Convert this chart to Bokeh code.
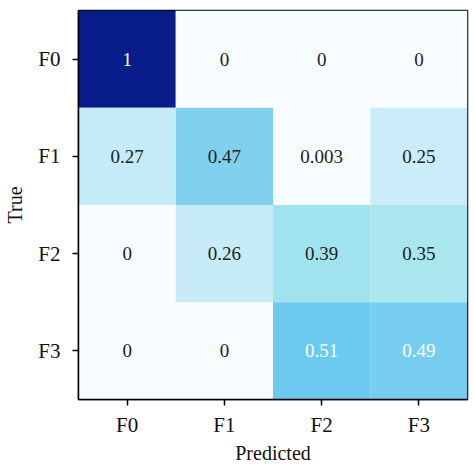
from bokeh.plotting import figure
from bokeh.models import ColumnDataSource, LinearColorMapper, FactorRange
from bokeh.core.properties import value
from bokeh.embed import file_html
from bokeh.resources import INLINE

# ---- data ----
classes = ["F0", "F1", "F2", "F3"]
true_labels = ["F0"] * 4 + ["F1"] * 4 + ["F2"] * 4 + ["F3"] * 4
pred_labels = classes * 4
values = [1, 0, 0, 0,
          0.27, 0.47, 0.003, 0.25,
          0, 0.26, 0.39, 0.35,
          0, 0, 0.51, 0.49]
value_text = ["1", "0", "0", "0",
              "0.27", "0.47", "0.003", "0.25",
              "0", "0.26", "0.39", "0.35",
              "0", "0", "0.51", "0.49"]

# ---- colour map (style) ----
stops = [(0.0, (247, 252, 254)), (0.25, (203, 236, 249)), (0.35, (170, 230, 238)),
         (0.39, (160, 227, 238)), (0.47, (128, 209, 238)), (0.51, (108, 201, 239)),
         (0.75, (50, 110, 200)), (1.0, (8, 28, 138))]

def interp(t):
    for (t0, c0), (t1, c1) in zip(stops[:-1], stops[1:]):
        if t <= t1:
            f = (t - t0) / (t1 - t0) if t1 > t0 else 0
            return "#%02x%02x%02x" % tuple(int(round(a + (b - a) * f)) for a, b in zip(c0, c1))
    return "#%02x%02x%02x" % stops[-1][1]

palette = [interp(i / 255) for i in range(256)]
mapper = LinearColorMapper(palette=palette, low=0, high=1)

text_colors = ["#ffffff" if v > 0.48 else "#222222" for v in values]

source = ColumnDataSource(dict(pred=pred_labels, true=true_labels, val=values,
                               txt=value_text, tcol=text_colors))

FONT = "Liberation Serif"

p = figure(width=474, height=474,
           x_range=FactorRange(*classes), y_range=FactorRange(*classes[::-1]),
           output_backend="svg", toolbar_location=None,
           min_border_left=78, min_border_right=7, min_border_top=10, min_border_bottom=75)

p.rect(x="pred", y="true", width=1, height=1, source=source,
       fill_color={"field": "val", "transform": mapper}, line_color=None)
p.text(x="pred", y="true", text="txt", source=source, text_color="tcol",
       text_align="center", text_baseline="middle", text_font=value(FONT),
       text_font_size="19px")

p.outline_line_color = "black"
p.outline_line_width = 1.5
p.grid.visible = False
p.background_fill_color = "white"
p.border_fill_color = "white"

for ax in (p.xaxis, p.yaxis):
    ax.axis_line_color = "black"
    ax.axis_line_width = 1.5
    ax.major_tick_line_color = "black"
    ax.major_tick_line_width = 1.5
    ax.major_tick_out = 6
    ax.major_tick_in = 0
    ax.minor_tick_line_color = None
    ax.major_label_text_font = FONT
    ax.major_label_text_font_size = "21px"
    ax.major_label_text_color = "#111111"
    ax.axis_label_text_font = FONT
    ax.axis_label_text_font_size = "20px"
    ax.axis_label_text_font_style = "normal"
    ax.axis_label_text_color = "#111111"

p.xaxis.axis_label = "Predicted"
p.yaxis.axis_label = "True"
p.yaxis.major_label_orientation = "horizontal"
p.xaxis.major_label_standoff = 7
p.xaxis.axis_label_standoff = 2
p.yaxis.major_label_standoff = 12
p.yaxis.axis_label_standoff = 9

open("out.html", "w").write(file_html(p, INLINE))
